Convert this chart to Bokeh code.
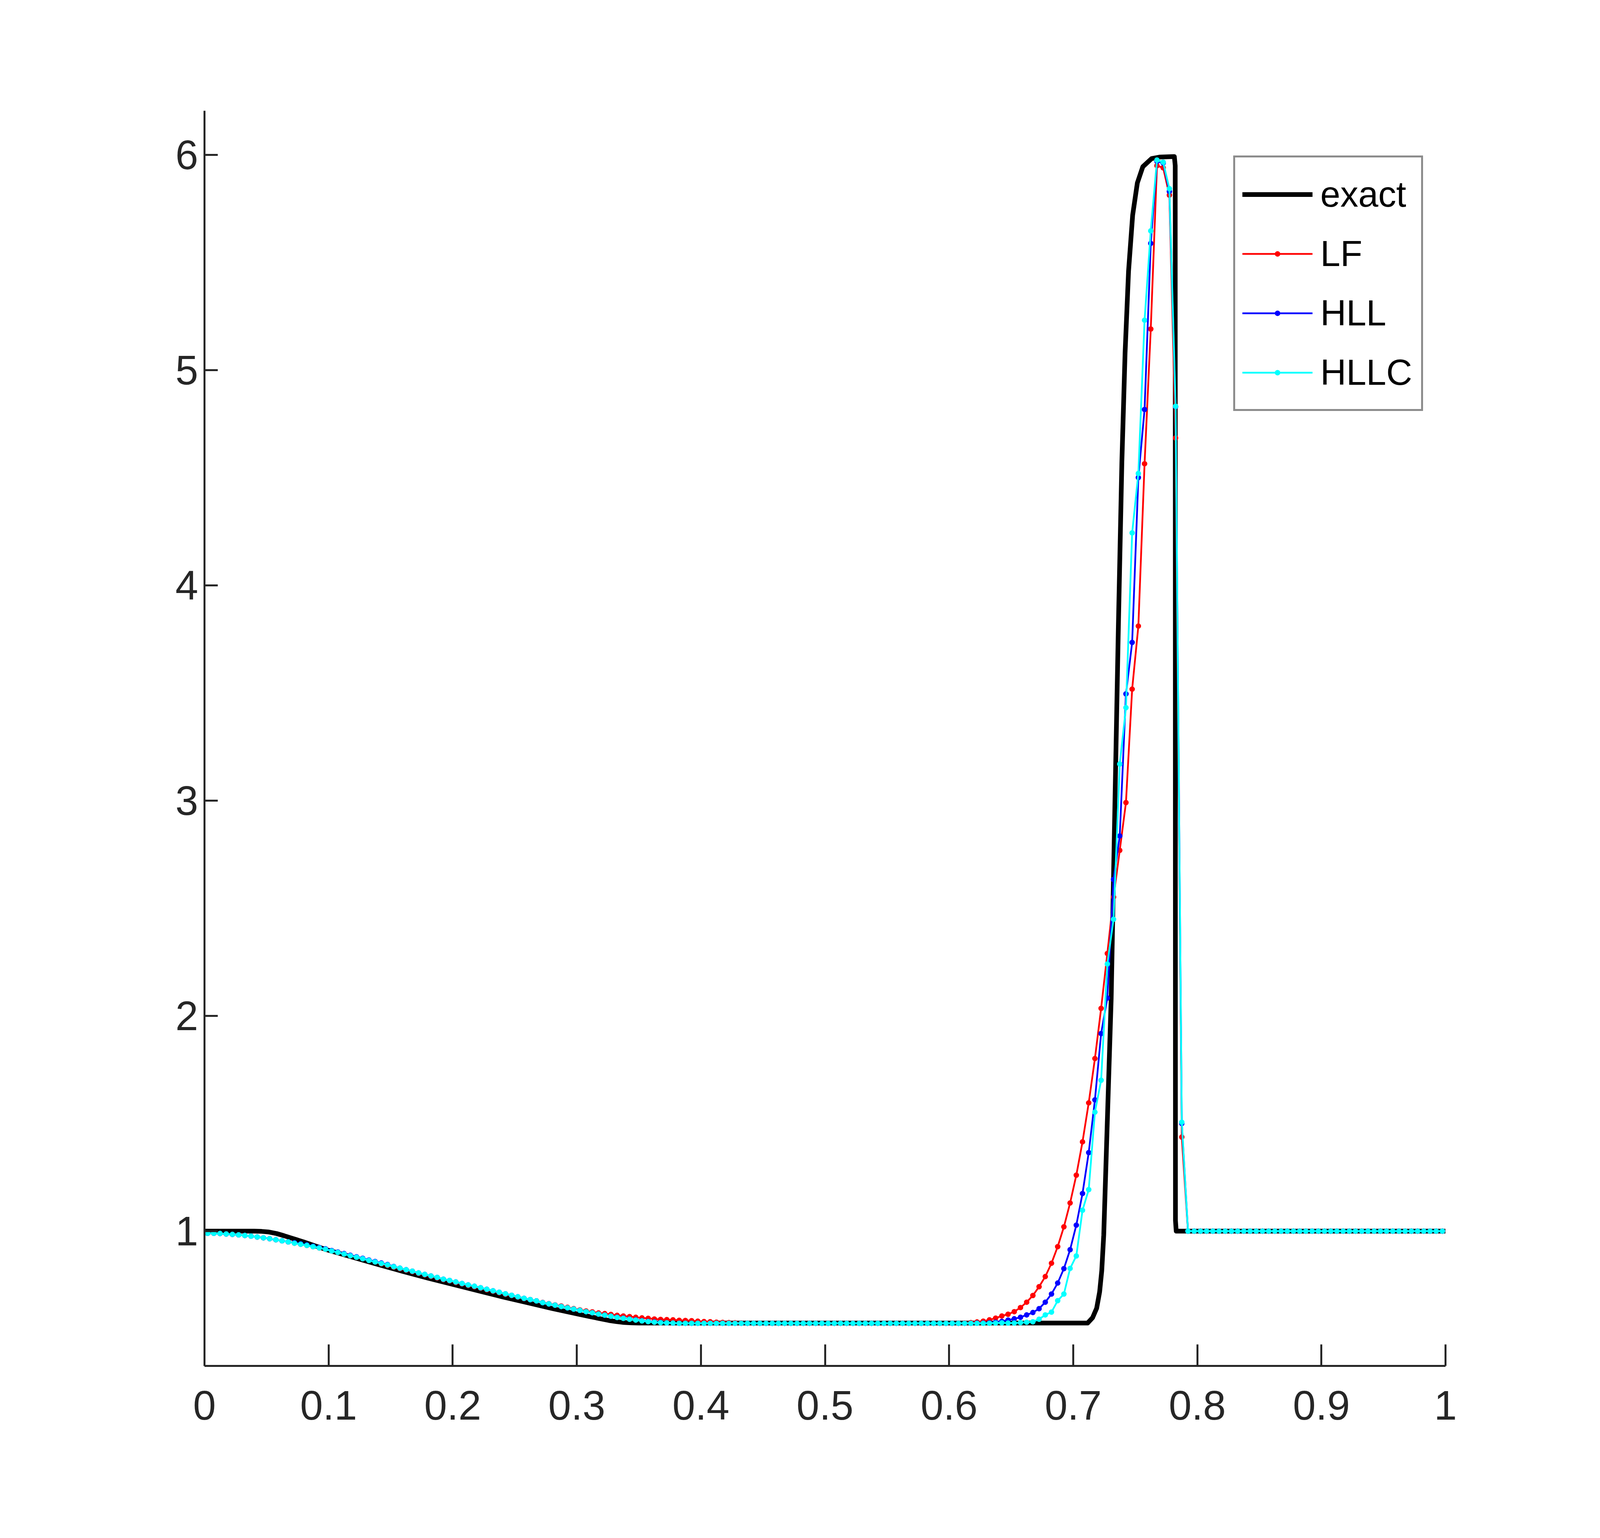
from bokeh.plotting import figure
from bokeh.models import Range1d, FixedTicker, Legend, LegendItem
from bokeh.embed import file_html
from bokeh.resources import INLINE

# ---------------- data ----------------
n_cells = 200
x_cells = [round(0.0025 + 0.005 * i, 4) for i in range(n_cells)]

exact_x = [0.0, 0.040, 0.046, 0.052, 0.058, 0.064, 0.070, 0.080, 0.090, 0.100,
           0.120, 0.140, 0.160, 0.180, 0.200, 0.220, 0.240, 0.260, 0.280, 0.300,
           0.310, 0.320, 0.326, 0.332, 0.338, 0.344, 0.350, 0.360, 0.700, 0.7116,
           0.7156, 0.7189, 0.7213, 0.7230, 0.7246, 0.7258, 0.7270, 0.7282, 0.7294, 0.7306,
           0.7338, 0.7364, 0.7392, 0.7418, 0.7446, 0.7479, 0.7517, 0.7561, 0.7632, 0.7700,
           0.7815, 0.7822, 0.7824, 0.7830, 0.8000, 1.0]
exact_y = [1.000, 1.000, 0.999, 0.996, 0.989, 0.979, 0.968, 0.950, 0.930, 0.911,
           0.878, 0.845, 0.813, 0.782, 0.753, 0.724, 0.695, 0.668, 0.641, 0.616,
           0.604, 0.592, 0.585, 0.580, 0.576, 0.574, 0.573, 0.573, 0.573, 0.573,
           0.598, 0.642, 0.718, 0.816, 0.982, 1.200, 1.420, 1.640, 1.860, 2.080,
           3.040, 3.810, 4.570, 5.080, 5.460, 5.720, 5.870, 5.945, 5.983, 5.990,
           5.992, 5.950, 1.050, 1.000, 1.000, 1.000]

lf = [
    0.990, 0.990, 0.989, 0.987, 0.985, 0.983, 0.980, 0.977, 0.973, 0.969,
    0.965, 0.960, 0.955, 0.950, 0.944, 0.939, 0.934, 0.928, 0.922, 0.916,
    0.908, 0.901, 0.894, 0.886, 0.879, 0.872, 0.864, 0.857, 0.848, 0.841,
    0.833, 0.826, 0.819, 0.812, 0.804, 0.797, 0.790, 0.783, 0.775, 0.769,
    0.762, 0.755, 0.748, 0.742, 0.735, 0.728, 0.721, 0.714, 0.707, 0.701,
    0.694, 0.687, 0.682, 0.676, 0.669, 0.663, 0.657, 0.652, 0.646, 0.640,
    0.634, 0.629, 0.625, 0.620, 0.617, 0.613, 0.609, 0.606, 0.603, 0.600,
    0.597, 0.595, 0.592, 0.590, 0.589, 0.588, 0.586, 0.585, 0.584, 0.582,
    0.580, 0.579, 0.577, 0.576, 0.575, 0.574, 0.573, 0.572, 0.572, 0.572,
    0.572, 0.572, 0.572, 0.572, 0.572, 0.572, 0.572, 0.572, 0.572, 0.572,
    0.572, 0.572, 0.572, 0.572, 0.572, 0.572, 0.572, 0.572, 0.572, 0.572,
    0.572, 0.572, 0.572, 0.572, 0.572, 0.572, 0.572, 0.572, 0.572, 0.572,
    0.572, 0.572, 0.573, 0.575, 0.578, 0.582, 0.588, 0.596, 0.606, 0.614,
    0.626, 0.645, 0.670, 0.701, 0.742, 0.789, 0.851, 0.928, 1.020, 1.131,
    1.260, 1.415, 1.596, 1.802, 2.035, 2.290, 2.552, 2.769, 2.991, 3.518,
    3.811, 4.565, 5.191, 5.950, 5.940, 5.813, 4.685, 1.437, 1.000, 1.000,
    1.000, 1.000, 1.000, 1.000, 1.000, 1.000, 1.000, 1.000, 1.000, 1.000,
    1.000, 1.000, 1.000, 1.000, 1.000, 1.000, 1.000, 1.000, 1.000, 1.000,
    1.000, 1.000, 1.000, 1.000, 1.000, 1.000, 1.000, 1.000, 1.000, 1.000,
    1.000, 1.000, 1.000, 1.000, 1.000, 1.000, 1.000, 1.000, 1.000, 1.000,
]

hll = [
    0.990, 0.990, 0.989, 0.987, 0.985, 0.983, 0.980, 0.977, 0.973, 0.969,
    0.965, 0.960, 0.955, 0.950, 0.946, 0.941, 0.936, 0.930, 0.924, 0.918,
    0.910, 0.903, 0.896, 0.888, 0.881, 0.874, 0.866, 0.859, 0.852, 0.845,
    0.836, 0.828, 0.821, 0.814, 0.806, 0.799, 0.792, 0.785, 0.777, 0.771,
    0.764, 0.757, 0.750, 0.744, 0.737, 0.730, 0.723, 0.716, 0.709, 0.702,
    0.695, 0.688, 0.682, 0.676, 0.668, 0.662, 0.656, 0.650, 0.644, 0.638,
    0.632, 0.626, 0.621, 0.615, 0.610, 0.605, 0.600, 0.596, 0.592, 0.588,
    0.584, 0.581, 0.578, 0.576, 0.574, 0.573, 0.572, 0.572, 0.572, 0.572,
    0.572, 0.572, 0.572, 0.572, 0.572, 0.572, 0.572, 0.572, 0.572, 0.572,
    0.572, 0.572, 0.572, 0.572, 0.572, 0.572, 0.572, 0.572, 0.572, 0.572,
    0.572, 0.572, 0.572, 0.572, 0.572, 0.572, 0.572, 0.572, 0.572, 0.572,
    0.572, 0.572, 0.572, 0.572, 0.572, 0.572, 0.572, 0.572, 0.572, 0.572,
    0.572, 0.572, 0.572, 0.572, 0.573, 0.573, 0.574, 0.577, 0.581, 0.587,
    0.593, 0.600, 0.611, 0.622, 0.640, 0.670, 0.708, 0.759, 0.826, 0.914,
    1.028, 1.175, 1.365, 1.610, 1.918, 2.083, 2.634, 2.836, 3.496, 3.735,
    4.501, 4.817, 5.589, 5.970, 5.962, 5.830, 4.830, 1.500, 1.000, 1.000,
    1.000, 1.000, 1.000, 1.000, 1.000, 1.000, 1.000, 1.000, 1.000, 1.000,
    1.000, 1.000, 1.000, 1.000, 1.000, 1.000, 1.000, 1.000, 1.000, 1.000,
    1.000, 1.000, 1.000, 1.000, 1.000, 1.000, 1.000, 1.000, 1.000, 1.000,
    1.000, 1.000, 1.000, 1.000, 1.000, 1.000, 1.000, 1.000, 1.000, 1.000,
]

hllc = [
    0.990, 0.990, 0.989, 0.987, 0.985, 0.983, 0.980, 0.977, 0.973, 0.969,
    0.965, 0.960, 0.955, 0.950, 0.944, 0.939, 0.934, 0.928, 0.922, 0.916,
    0.908, 0.901, 0.894, 0.886, 0.879, 0.872, 0.864, 0.857, 0.850, 0.843,
    0.835, 0.828, 0.821, 0.814, 0.806, 0.799, 0.792, 0.785, 0.777, 0.771,
    0.764, 0.757, 0.750, 0.744, 0.737, 0.730, 0.723, 0.716, 0.709, 0.702,
    0.695, 0.688, 0.682, 0.676, 0.668, 0.662, 0.656, 0.650, 0.644, 0.638,
    0.632, 0.626, 0.621, 0.615, 0.610, 0.605, 0.599, 0.595, 0.591, 0.587,
    0.583, 0.580, 0.577, 0.575, 0.574, 0.573, 0.572, 0.572, 0.572, 0.572,
    0.572, 0.572, 0.572, 0.572, 0.572, 0.572, 0.572, 0.572, 0.572, 0.572,
    0.572, 0.572, 0.572, 0.572, 0.572, 0.572, 0.572, 0.572, 0.572, 0.572,
    0.572, 0.572, 0.572, 0.572, 0.572, 0.572, 0.572, 0.572, 0.572, 0.572,
    0.572, 0.572, 0.572, 0.572, 0.572, 0.572, 0.572, 0.572, 0.572, 0.572,
    0.572, 0.572, 0.572, 0.572, 0.572, 0.572, 0.572, 0.573, 0.574, 0.573,
    0.573, 0.575, 0.577, 0.579, 0.591, 0.611, 0.624, 0.677, 0.708, 0.827,
    0.885, 1.097, 1.193, 1.553, 1.701, 2.241, 2.449, 3.170, 3.432, 4.244,
    4.520, 5.232, 5.647, 5.976, 5.966, 5.843, 4.832, 1.506, 1.000, 1.000,
    1.000, 1.000, 1.000, 1.000, 1.000, 1.000, 1.000, 1.000, 1.000, 1.000,
    1.000, 1.000, 1.000, 1.000, 1.000, 1.000, 1.000, 1.000, 1.000, 1.000,
    1.000, 1.000, 1.000, 1.000, 1.000, 1.000, 1.000, 1.000, 1.000, 1.000,
    1.000, 1.000, 1.000, 1.000, 1.000, 1.000, 1.000, 1.000, 1.000, 1.000,
]

x_ticks = [0.0, 0.1, 0.2, 0.3, 0.4, 0.5, 0.6, 0.7, 0.8, 0.9, 1.0]
x_tick_labels = ["0", "0.1", "0.2", "0.3", "0.4", "0.5", "0.6", "0.7", "0.8", "0.9", "1"]
y_ticks = [1, 2, 3, 4, 5, 6]
y_tick_labels = ["1", "2", "3", "4", "5", "6"]

series_names = ["exact", "LF", "HLL", "HLLC"]
series_colors = ["#000000", "#FF0000", "#0000FF", "#00FFFF"]

# ---------------- layout: fill the visible page area with the reference proportions ----------------
W, H = 4080, 3921
LEFT, FRAME_W = 523, 3177
TOP, FRAME_H = 283, 3213
p = figure(width=W, height=H, output_backend="svg", toolbar_location=None,
           x_range=Range1d(0, 1), y_range=Range1d(0.374, 6.205),
           min_border_left=LEFT, min_border_right=W - LEFT - FRAME_W,
           min_border_top=TOP, min_border_bottom=H - TOP - FRAME_H)
p.outline_line_color = None
p.xgrid.visible = False
p.ygrid.visible = False
p.background_fill_color = "white"
p.border_fill_color = "white"

AX = "#262626"
for ax in (p.xaxis[0], p.yaxis[0]):
    ax.axis_line_width = 5
    ax.axis_line_color = AX
    ax.major_tick_line_width = 5
    ax.major_tick_line_color = AX
    ax.major_tick_out = 0
    ax.minor_tick_line_color = None
    ax.major_label_text_font = "Liberation Sans"
    ax.major_label_text_font_size = "105px"
    ax.major_label_text_color = AX

p.xaxis.major_tick_in = 55
p.yaxis.major_tick_in = 34
p.xaxis.ticker = FixedTicker(ticks=x_ticks)
p.xaxis.major_label_overrides = {t: l for t, l in zip(x_ticks, x_tick_labels)}
p.yaxis.ticker = FixedTicker(ticks=y_ticks)
p.yaxis.major_label_overrides = {t: l for t, l in zip(y_ticks, y_tick_labels)}
p.xaxis.major_label_standoff = 64
p.yaxis.major_label_standoff = 16

# ---------------- glyphs ----------------
r_exact = p.line(exact_x, exact_y, line_color=series_colors[0], line_width=12,
                 line_join="round")
items = [LegendItem(label=series_names[0], renderers=[r_exact])]
for name, col, vals in zip(series_names[1:], series_colors[1:], [lf, hll, hllc]):
    rl = p.line(x_cells, vals, line_color=col, line_width=4.5, line_join="round")
    rs = p.scatter(x_cells, vals, marker="circle", size=14, fill_color=col,
                   line_color=col, line_width=0)
    items.append(LegendItem(label=name, renderers=[rl, rs]))

# legend box: x 3165..3641, y 402..1045 on the page
legend = Legend(items=items, location=(3165 - 531, 3504 - 1045 - 15))
legend.glyph_width = 180
legend.glyph_height = 35
legend.label_height = 152
legend.label_width = 240
legend.padding = 18
legend.spacing = 0
legend.margin = 0
legend.label_standoff = 20
legend.border_line_color = "#1a1a1a"
legend.border_line_width = 5
legend.background_fill_color = "white"
legend.background_fill_alpha = 1.0
legend.label_text_font = "Liberation Sans"
legend.label_text_font_size = "92px"
legend.label_text_color = "#000000"
p.add_layout(legend)

open("out.html", "w").write(file_html(p, INLINE))
